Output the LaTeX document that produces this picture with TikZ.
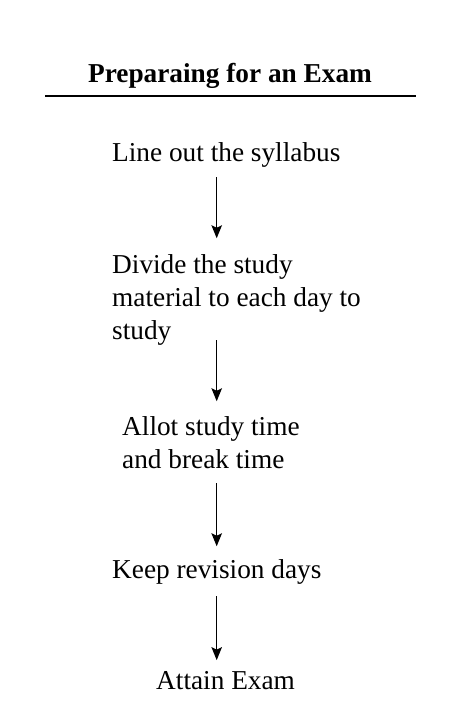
\documentclass[tikz,border=0pt]{standalone}
\usepackage{fontspec}
\setmainfont{Liberation Serif}
\usetikzlibrary{arrows.meta}

\begin{document}
\begin{tikzpicture}[x=1pt, y=1pt, every text node part/.style={align=left}]

\tikzstyle{txt}=[anchor=base west, inner sep=0pt, font=\fontsize{27.3}{33}\selectfont]
\tikzstyle{arr}=[draw, line width=1.4pt, -{Stealth[length=13pt, width=10.5pt, inset=2.5pt]}]

\useasboundingbox (0,0) rectangle (450,-726);

\node (title) [txt, anchor=base, font=\bfseries\fontsize{27.3}{33}\selectfont] at (230,-82) {Preparaing for an Exam};
\coordinate (rl) at (45,-96);
\coordinate (rr) at (416,-96);
\draw [line width=1.5pt] (rl) -- (rr);

% base west of a multi-line node sits on its last line
\node (s1) [txt] at (112,-161) {Line out the syllabus};
\node (s2) [txt] at (112,-339) {Divide the study\\material to each day to\\study};
\node (s3) [txt] at (122,-468) {Allot study time\\and break time};
\node (s4) [txt] at (112,-578) {Keep revision days};
\node (s5) [txt] at (156,-689) {Attain Exam};

\coordinate (col) at (216.7,0);

\path [arr, shorten <=10pt, shorten >=15.6pt] (s1.south -| col) -- (s2.north -| col);
\path [arr, shorten <=-5pt, shorten >=14.6pt] (s2.south -| col) -- (s3.north -| col);
\path [arr, shorten <=15pt, shorten >=12.6pt] (s3.south -| col) -- (s4.north -| col);
\path [arr, shorten <=12pt, shorten >=10.6pt] (s4.south -| col) -- (s5.north -| col);

\end{tikzpicture}
\end{document}
